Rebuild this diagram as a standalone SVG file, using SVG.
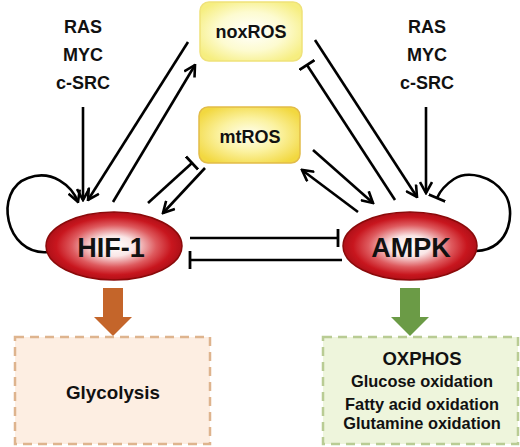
<svg xmlns="http://www.w3.org/2000/svg" width="520" height="447" viewBox="0 0 520 447">
<defs>
<style>
text{font-family:"Liberation Sans",Arial,sans-serif;font-weight:bold;fill:#111;text-anchor:middle}
.ln{stroke:#000;stroke-width:2.6;fill:none}
.lbl{font-size:18px}
.sub{font-size:16.4px}
</style>
<radialGradient id="gEll" cx="50%" cy="50%" r="50%">
<stop offset="0" stop-color="#ffffff"/>
<stop offset="0.3" stop-color="#fae6e6"/>
<stop offset="0.62" stop-color="#de5a5e"/>
<stop offset="0.85" stop-color="#c8161e"/>
<stop offset="1" stop-color="#b01018"/>
</radialGradient>
<radialGradient id="gNox" cx="50%" cy="50%" r="60%">
<stop offset="0" stop-color="#ffffff"/>
<stop offset="0.55" stop-color="#fdfbd0"/>
<stop offset="1" stop-color="#f6ee80"/>
</radialGradient>
<radialGradient id="gMt" cx="50%" cy="50%" r="60%">
<stop offset="0" stop-color="#fffff2"/>
<stop offset="0.5" stop-color="#fbf2a0"/>
<stop offset="1" stop-color="#f2d840"/>
</radialGradient>
<marker id="arr" viewBox="0 0 14 14" refX="12.5" refY="7" markerWidth="14" markerHeight="14" markerUnits="userSpaceOnUse" orient="auto">
<path d="M1.5,1 L12.5,7 L1.5,13" fill="none" stroke="#000" stroke-width="2.6"/>
</marker>
<marker id="bar" viewBox="0 0 4 18" refX="2" refY="9" markerWidth="4" markerHeight="18" markerUnits="userSpaceOnUse" orient="auto">
<line x1="2" y1="0" x2="2" y2="18" stroke="#000" stroke-width="2.8"/>
</marker>
</defs>
<rect width="520" height="447" fill="#ffffff"/>

<g id="connectors">
<line class="ln" x1="83" y1="107" x2="83" y2="200" marker-end="url(#arr)"/>
<line class="ln" x1="426" y1="107" x2="426" y2="193" marker-end="url(#arr)"/>
<line class="ln" x1="188" y1="42" x2="88" y2="200" marker-end="url(#arr)"/>
<line class="ln" x1="113" y1="202" x2="195" y2="65" marker-end="url(#arr)"/>
<line class="ln" x1="148" y1="203" x2="192" y2="163" marker-end="url(#bar)"/>
<line class="ln" x1="205" y1="168" x2="163" y2="213" marker-end="url(#arr)"/>
<line class="ln" x1="315" y1="40" x2="417" y2="197" marker-end="url(#arr)"/>
<line class="ln" x1="395" y1="200" x2="307" y2="65" marker-end="url(#bar)"/>
<line class="ln" x1="313" y1="150" x2="373" y2="203" marker-end="url(#arr)"/>
<line class="ln" x1="358" y1="212" x2="302" y2="170" marker-end="url(#arr)"/>
<line class="ln" x1="190" y1="238" x2="338" y2="238" marker-end="url(#bar)"/>
<line class="ln" x1="342" y1="260" x2="190" y2="260" marker-end="url(#bar)"/>
<path class="ln" d="M48,252 C5,256 -7,190 28,178 C52,169 72,186 78,202" marker-end="url(#arr)"/>
<path class="ln" d="M476,251 C512,250 516,208 504,193 C492,176 468,170 454,179 C445,185 440,191 437,198" marker-end="url(#bar)"/>
<polygon id="arrowOrange" points="103,288 123,288 123,317 132,317 113,336 94,317 103,317" fill="#c4652a"/>
<polygon id="arrowGreen" points="400,288 420,288 420,317 429,317 410,336 391,317 400,317" fill="#6b9b46"/>
</g>

<g id="labelLeft">
<text class="lbl" x="83" y="33">RAS</text>
<text class="lbl" x="83" y="61">MYC</text>
<text class="lbl" x="83" y="89">c-SRC</text>
</g>
<g id="labelRight">
<text class="lbl" x="427" y="33">RAS</text>
<text class="lbl" x="427" y="61">MYC</text>
<text class="lbl" x="427" y="89">c-SRC</text>
</g>

<g id="noxROS">
<rect x="200" y="2" width="102" height="59" rx="9" fill="url(#gNox)" stroke="#efe27a" stroke-width="1.5"/>
<text class="lbl" x="251" y="38">noxROS</text>
</g>
<g id="mtROS">
<rect x="199" y="107" width="101" height="56" rx="9" fill="url(#gMt)" stroke="#e2bc48" stroke-width="1.5"/>
<text class="lbl" x="250" y="143">mtROS</text>
</g>

<g id="HIF-1">
<ellipse cx="114" cy="246" rx="68" ry="34" fill="url(#gEll)" stroke="#8a0a0a" stroke-width="1.5"/>
<text x="111" y="257" style="font-size:27px">HIF-1</text>
</g>
<g id="AMPK">
<ellipse cx="410" cy="246" rx="67" ry="34" fill="url(#gEll)" stroke="#8a0a0a" stroke-width="1.5"/>
<text x="411" y="257" style="font-size:27px">AMPK</text>
</g>

<g id="glycolysis">
<rect x="15" y="337" width="195" height="107" fill="#fdeee2" stroke="#deb48e" stroke-width="2.5" stroke-dasharray="9,6"/>
<text x="113" y="399" style="font-size:18.8px">Glycolysis</text>
</g>
<g id="oxphos">
<rect x="323" y="337" width="195" height="107" fill="#eef5dc" stroke="#b9cc94" stroke-width="2.5" stroke-dasharray="9,6"/>
<text x="422" y="365" style="font-size:18.5px">OXPHOS</text>
<text class="sub" x="422" y="387">Glucose oxidation</text>
<text class="sub" x="422" y="410">Fatty acid oxidation</text>
<text class="sub" x="422" y="429">Glutamine oxidation</text>
</g>
</svg>
